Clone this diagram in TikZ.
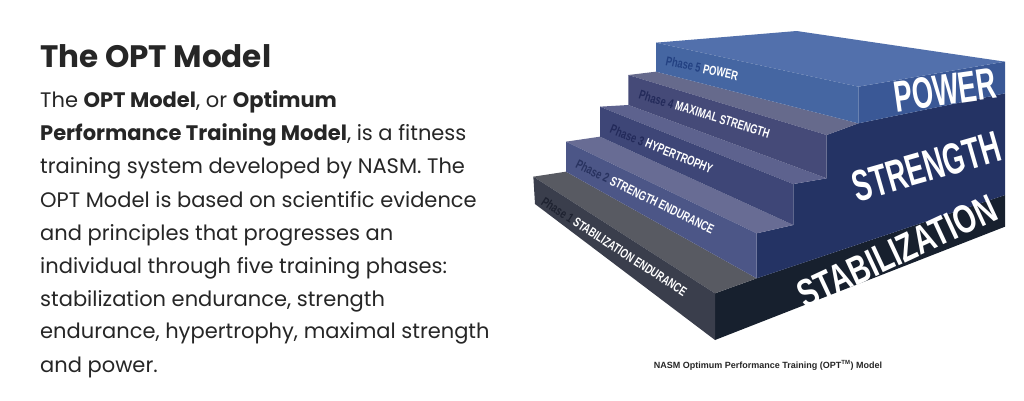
\documentclass[tikz,border=0pt]{standalone}
\usepackage{fontspec}
\setmainfont{Poppins}
\newfontfamily\capf{Liberation Sans}
\newcommand{\cnd}[2]{\scalebox{#1}[1]{#2}}
\begin{document}
\begin{tikzpicture}[x=1pt,y=-1pt,
  body/.style={anchor=base west,inner sep=0pt,font=\fontsize{21}{22}\selectfont,text=black!85},
  ph/.style={anchor=west,inner sep=0pt,font=\capf\bfseries\fontsize{13}{13}\selectfont,text=white},
  big/.style={inner sep=0pt,font=\capf\bfseries\fontsize{44}{44}\selectfont,text=white}]
\useasboundingbox (0,0) rectangle (1024,400);
\fill[white] (0,0) rectangle (1024,400);
\node[body,font=\fontsize{31}{32}\selectfont] (title) at (40,67) {\textbf{The OPT Model}};
\node[body] (l1) at (40,107) {The \textbf{OPT Model}, or \textbf{Optimum}};
\node[body] (l2) at (40,140) {\textbf{Performance Training Model}, is a fitness};
\node[body] (l3) at (40,173) {training system developed by NASM. The};
\node[body] (l4) at (40,207) {OPT Model is based on scientific evidence};
\node[body] (l5) at (40,240) {and principles that progresses an};
\node[body] (l6) at (40,273) {individual through five training phases:};
\node[body] (l7) at (40,306) {stabilization endurance, strength};
\node[body] (l8) at (40,338) {endurance, hypertrophy, maximal strength};
\node[body] (l9) at (40,372) {and power.};
\begin{scope}[xshift=530pt,yshift=-30pt,scale=1/3]
% side bands
\fill[fill={rgb,255:red,23;green,32;blue,46}] (555,790)--(680,745)--(1425,495)--(1425,590)--(555,930)--cycle;
\fill[fill={rgb,255:red,36;green,51;blue,100}] (680,745)--(680,610)--(790,585)--(790,462)--(890,445)--(890,315)--(985,280)--(1425,190)--(1425,495)--cycle;
\fill[fill={rgb,255:red,58;green,88;blue,150}] (985,280)--(985,170)--(1425,95)--(1425,190)--cycle;
% top
\fill[fill={rgb,255:red,82;green,112;blue,172}] (378,38)--(800,3)--(1425,95)--(985,170)--cycle;
% treads
\fill[fill={rgb,255:red,88;green,90;blue,98}] (10,440)--(108,425)--(680,745)--(555,790)--cycle;
\fill[fill={rgb,255:red,104;green,108;blue,148}] (108,335)--(210,320)--(790,585)--(680,610)--cycle;
\fill[fill={rgb,255:red,93;green,98;blue,142}] (210,230)--(295,225)--(890,445)--(790,462)--cycle;
\fill[fill={rgb,255:red,102;green,106;blue,140}] (295,135)--(378,125)--(985,280)--(890,315)--cycle;
% risers
\fill[fill={rgb,255:red,58;green,62;blue,76}] (10,440)--(555,790)--(555,930)--(15,522)--cycle;
\fill[fill={rgb,255:red,76;green,86;blue,135}] (108,335)--(680,610)--(680,745)--(108,425)--cycle;
\fill[fill={rgb,255:red,62;green,70;blue,119}] (210,230)--(790,462)--(790,585)--(210,320)--cycle;
\fill[fill={rgb,255:red,69;green,74;blue,120}] (295,135)--(890,315)--(890,445)--(295,225)--cycle;
\fill[fill={rgb,255:red,69;green,102;blue,162}] (378,38)--(985,170)--(985,280)--(378,125)--cycle;
% phase labels
\node[ph,rotate=-33] (p1) at (38,510) {\cnd{0.72}{\textcolor[RGB]{30,34,48}{Phase 1} STABILIZATION ENDURANCE}};
\node[ph,rotate=-26] (p2) at (140,400) {\cnd{0.72}{\textcolor[RGB]{40,50,95}{Phase 2} STRENGTH ENDURANCE}};
\node[ph,rotate=-22] (p3) at (242,295) {\cnd{0.72}{\textcolor[RGB]{35,42,90}{Phase 3} HYPERTROPHY}};
\node[ph,rotate=-17] (p4) at (328,192) {\cnd{0.72}{\textcolor[RGB]{35,42,90}{Phase 4} MAXIMAL STRENGTH}};
\node[ph,rotate=-12] (p5) at (408,92) {\cnd{0.72}{\textcolor[RGB]{35,65,130}{Phase 5} POWER}};
% big labels
\node[big,rotate=8] (bp) at (1245,180) {\cnd{0.62}{POWER}};
\node[big,rotate=16] (bs) at (1190,410) {\cnd{0.63}{STRENGTH}};
\node[big,rotate=25,font=\capf\bfseries\fontsize{40}{40}\selectfont] (bst) at (1100,665) {\cnd{0.72}{STABILIZATION}};
\end{scope}
\node[inner sep=0pt,font=\capf\bfseries\fontsize{9}{9}\selectfont,text=black!85] (cap) at (768,365) {NASM Optimum Performance Training (OPT\textsuperscript{\fontsize{6}{6}\selectfont TM}) Model};
\end{tikzpicture}
\end{document}
